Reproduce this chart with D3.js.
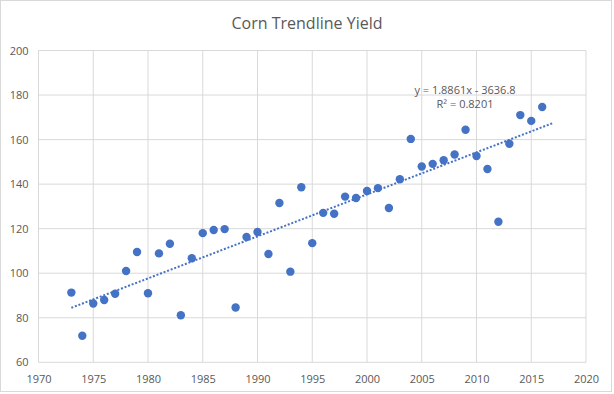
<!DOCTYPE html>
<html>
<head>
<meta charset="utf-8">
<script src="https://cdn.jsdelivr.net/npm/d3@7"></script>
<style>
  body { margin: 0; background: #fff; }
  text { font-family: "Open Sans", "Liberation Sans", sans-serif; fill: #595959; }
</style>
</head>
<body>
<div id="chart"></div>
<script>
// Data
let years = [1973, 1974, 1975, 1976, 1977, 1978, 1979, 1980, 1981, 1982,
             1983, 1984, 1985, 1986, 1987, 1988, 1989, 1990, 1991, 1992,
             1993, 1994, 1995, 1996, 1997, 1998, 1999, 2000, 2001, 2002,
             2003, 2004, 2005, 2006, 2007, 2008, 2009, 2010, 2011, 2012,
             2013, 2014, 2015, 2016];
let yields = [91.3, 71.9, 86.4, 88.0, 90.8, 101.0, 109.5, 91.0, 108.9, 113.2,
              81.1, 106.7, 118.0, 119.4, 119.8, 84.6, 116.3, 118.5, 108.6, 131.5,
              100.7, 138.6, 113.5, 127.1, 126.7, 134.4, 133.8, 136.9, 138.2, 129.3,
              142.2, 160.3, 147.9, 149.1, 150.7, 153.3, 164.4, 152.6, 146.8, 123.1,
              158.1, 171.0, 168.4, 174.6];
let xTicks = [1970, 1975, 1980, 1985, 1990, 1995, 2000, 2005, 2010, 2015, 2020];
let yTicks = [60, 80, 100, 120, 140, 160, 180, 200];
let trend = { slope: 1.8861, intercept: -3636.8, r2: 0.8201, from: 1973, to: 2017 };

let svgWidth = 614, svgHeight = 394;
let margin = { top: 50.5, right: 28, bottom: 31.7, left: 38.5 };
let chartWidth = svgWidth - margin.left - margin.right;
let chartHeight = svgHeight - margin.top - margin.bottom;

let svg = d3.select('#chart')
            .append('svg')
            .attr('width', svgWidth)
            .attr('height', svgHeight);

// Outer chart border
svg.append('rect')
    .attr('x', 0.5).attr('y', 0.5)
    .attr('width', svgWidth - 3).attr('height', svgHeight - 3)
    .attr('fill', '#fff')
    .attr('stroke', '#d9d9d9');

svg.append('text')
    .attr('x', svgWidth / 2)
    .attr('y', 29)
    .attr('text-anchor', 'middle')
    .attr('font-size', 16)
    .text('Corn Trendline Yield');

let chartGrp = svg.append('g')
            .attr('transform', `translate(${margin.left}, ${margin.top})`);

let xScale = d3.scaleLinear().domain([1970, 2020]).range([0, chartWidth]);
let yScale = d3.scaleLinear().domain([60, 200]).range([chartHeight, 0]);

// Gridlines
chartGrp.append('g')
    .selectAll('line')
    .data(xTicks)
    .enter()
    .append('line')
    .attr('x1', d => xScale(d)).attr('x2', d => xScale(d))
    .attr('y1', 0).attr('y2', chartHeight)
    .attr('stroke', '#d9d9d9');

chartGrp.append('g')
    .selectAll('line')
    .data(yTicks)
    .enter()
    .append('line')
    .attr('x1', 0).attr('x2', chartWidth)
    .attr('y1', d => yScale(d)).attr('y2', d => yScale(d))
    .attr('stroke', '#d9d9d9');

// Axes (labels only, Excel style)
let xAxis = d3.axisBottom(xScale).tickValues(xTicks).tickFormat(d3.format('d')).tickSize(0).tickPadding(13);
let yAxis = d3.axisLeft(yScale).tickValues(yTicks).tickSize(0).tickPadding(10);

let gx = chartGrp.append('g')
    .attr('transform', `translate(0, ${chartHeight})`)
    .call(xAxis);
let gy = chartGrp.append('g').call(yAxis);

[gx, gy].forEach(g => {
    g.select('.domain').remove();
    g.selectAll('text')
        .attr('font-family', '"Open Sans", "Liberation Sans", sans-serif')
        .attr('font-size', 11)
        .attr('fill', '#595959');
});

// Trendline
let trendYears = [trend.from, trend.to];
chartGrp.append('path')
    .datum(trendYears)
    .attr('d', d3.line()
        .x(d => xScale(d))
        .y(d => yScale(trend.slope * d + trend.intercept)))
    .attr('fill', 'none')
    .attr('stroke', '#4472c4')
    .attr('stroke-width', 2)
    .attr('stroke-dasharray', '2 1.8');

// Points
chartGrp.selectAll('circle')
    .data(years)
    .enter()
    .append('circle')
    .attr('cx', d => xScale(d))
    .attr('cy', (d, i) => yScale(yields[i]))
    .attr('r', 4.2)
    .attr('fill', '#4472c4');

// Trendline label
let eq = chartGrp.append('text')
    .attr('text-anchor', 'middle')
    .attr('font-size', 11);
eq.append('tspan')
    .attr('x', 465 - margin.left)
    .attr('y', 94 - margin.top)
    .text(`y = ${trend.slope}x - ${-trend.intercept}`);
eq.append('tspan')
    .attr('x', 465 - margin.left)
    .attr('y', 107.5 - margin.top)
    .text(`R² = ${trend.r2}`);
</script>
</body>
</html>
